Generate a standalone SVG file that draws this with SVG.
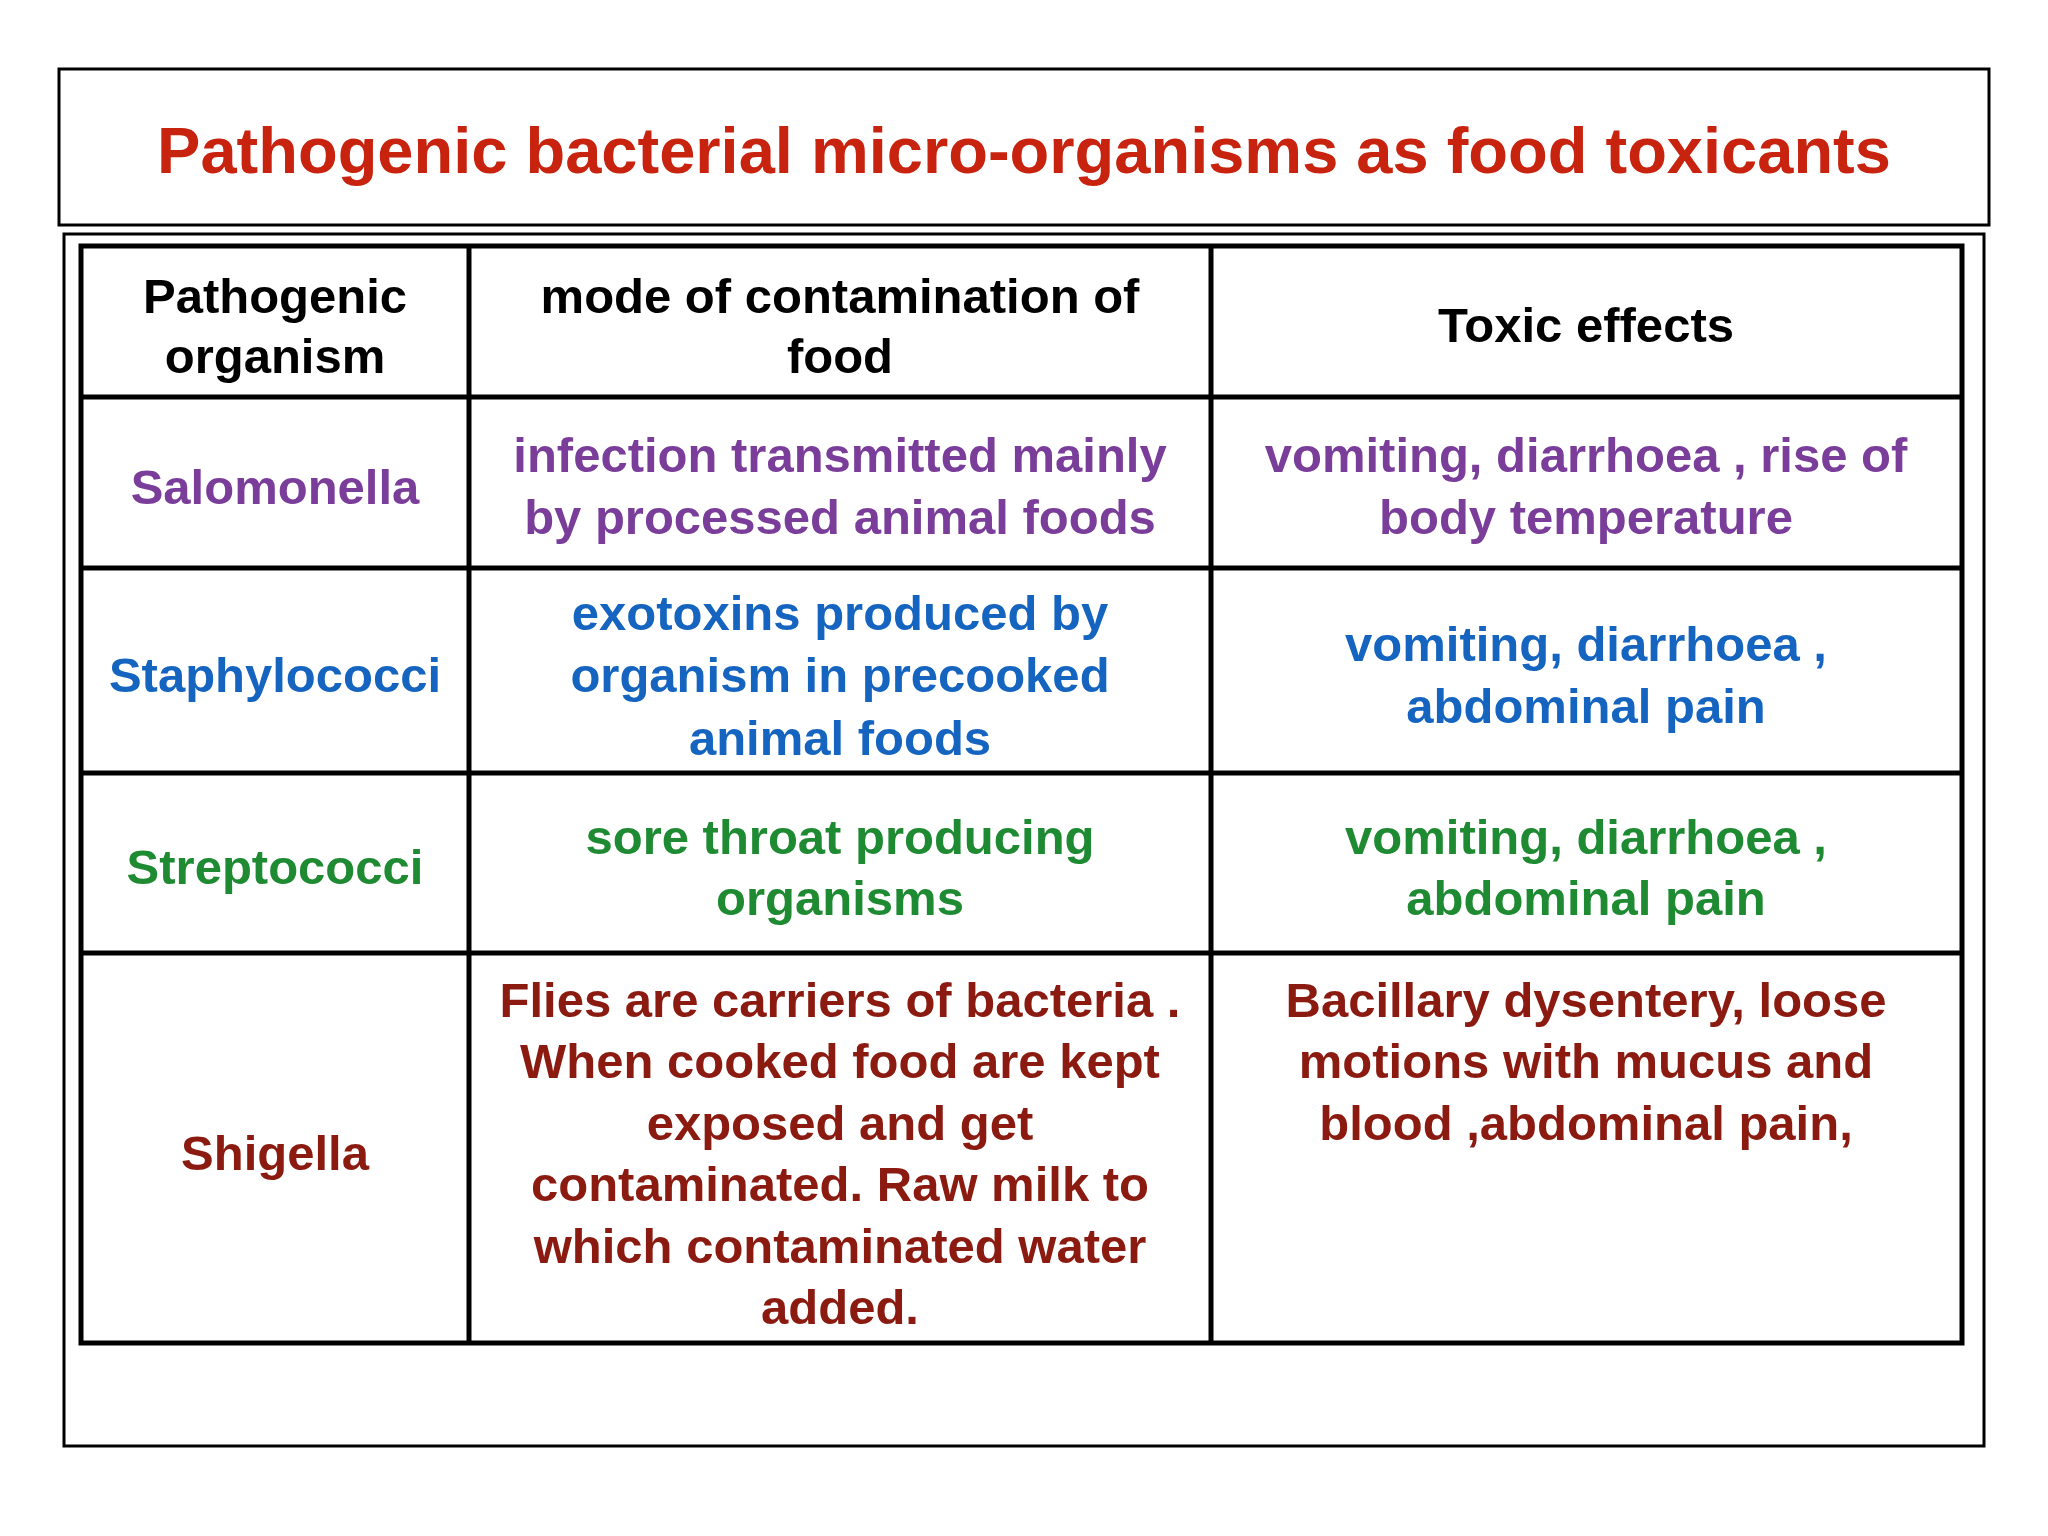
<svg xmlns="http://www.w3.org/2000/svg" width="2048" height="1536" viewBox="0 0 2048 1536">
<style>
text{font-family:"Liberation Sans",Arial,sans-serif;font-weight:bold;text-anchor:middle;font-size:49px}
.h{fill:#000}.p{fill:#7a3d9a}.b{fill:#1565c0}.g{fill:#1e8a32}.r{fill:#8b1a10}
.ln{stroke:#000;stroke-width:5;fill:none}
</style>
<rect width="2048" height="1536" fill="#fff"/>
<g id="title"><rect x="59" y="69" width="1930" height="156" fill="none" stroke="#000" stroke-width="3"/>
<text x="1024" y="173" style="font-size:65px;fill:#c8230f">Pathogenic bacterial micro-organisms as food toxicants</text></g>
<rect x="64" y="234" width="1920" height="1212" fill="none" stroke="#000" stroke-width="3"/>
<g id="grid">
<rect x="81" y="246" width="1881" height="1097" class="ln"/>
<path class="ln" d="M469 246V1343M1211 246V1343M81 397H1962M81 568H1962M81 773H1962M81 953H1962"/>
</g>
<g id="header" class="h">
<text x="275" y="313">Pathogenic</text><text x="275" y="373">organism</text>
<text x="840" y="313">mode of contamination of</text><text x="840" y="373">food</text>
<text x="1586" y="342">Toxic effects</text></g>
<g id="salmonella" class="p">
<text x="275" y="504">Salomonella</text>
<text x="840" y="472">infection transmitted mainly</text><text x="840" y="534">by processed animal foods</text>
<text x="1586" y="472">vomiting, diarrhoea , rise of</text><text x="1586" y="534">body temperature</text></g>
<g id="staph" class="b">
<text x="275" y="692">Staphylococci</text>
<text x="840" y="630">exotoxins produced by</text><text x="840" y="692">organism in precooked</text><text x="840" y="755">animal foods</text>
<text x="1586" y="661">vomiting, diarrhoea ,</text><text x="1586" y="723">abdominal pain</text></g>
<g id="strep" class="g">
<text x="275" y="884">Streptococci</text>
<text x="840" y="854">sore throat producing</text><text x="840" y="915">organisms</text>
<text x="1586" y="854">vomiting, diarrhoea ,</text><text x="1586" y="915">abdominal pain</text></g>
<g id="shigella" class="r">
<text x="275" y="1170">Shigella</text>
<text x="840" y="1017">Flies are carriers of bacteria .</text><text x="840" y="1078">When cooked food are kept</text><text x="840" y="1140">exposed and get</text><text x="840" y="1201">contaminated. Raw milk to</text><text x="840" y="1263">which contaminated water</text><text x="840" y="1324">added.</text>
<text x="1586" y="1017">Bacillary dysentery, loose</text><text x="1586" y="1078">motions with mucus and</text><text x="1586" y="1140">blood ,abdominal pain,</text></g>
</svg>
